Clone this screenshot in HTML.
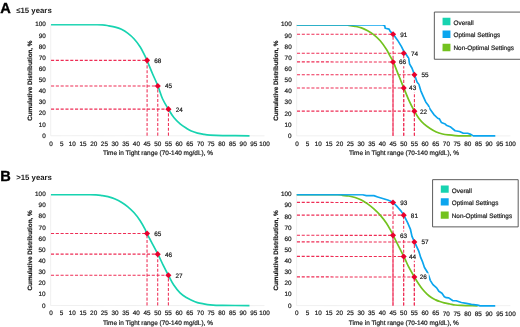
<!DOCTYPE html>
<html><head><meta charset="utf-8"><title>Cumulative distribution of Time in Tight Range</title>
<style>html,body{margin:0;padding:0;background:#fff}svg{display:block;filter:blur(0.3px)}text{text-rendering:geometricPrecision;font-family:"Liberation Sans",Arial,Helvetica,sans-serif;fill:#1a1a1a}.t{font-size:6.35px;stroke:#1a1a1a;stroke-width:0.2px}.b{font-weight:bold}.d{stroke:#ee2d55;fill:none}</style></head><body>
<svg width="520" height="327" viewBox="0 0 520 327">
<rect width="520" height="327" fill="#fff"/>
<g transform="rotate(0.02 260 163)">
<defs><clipPath id="ca"><rect x="0" y="24.2" width="520" height="120"/></clipPath><clipPath id="cb"><rect x="0" y="194.1" width="520" height="120"/></clipPath></defs>
<text class="b" x="0.3" y="12.9" font-size="14.6" style="fill:#000;stroke:#000;stroke-width:0.35">A</text>
<text class="b" x="16.2" y="13.4" font-size="7.8">≤15 years</text>
<path d="M50.70,24.35 V135.80 H264.50" fill="none" stroke="#ececec" stroke-width="0.8"/>
<text class="t" x="45.70" y="137.80" text-anchor="end">0</text>
<text class="t" x="45.70" y="126.66" text-anchor="end">10</text>
<text class="t" x="45.70" y="115.53" text-anchor="end">20</text>
<text class="t" x="45.70" y="104.39" text-anchor="end">30</text>
<text class="t" x="45.70" y="93.26" text-anchor="end">40</text>
<text class="t" x="45.70" y="82.12" text-anchor="end">50</text>
<text class="t" x="45.70" y="70.99" text-anchor="end">60</text>
<text class="t" x="45.70" y="59.85" text-anchor="end">70</text>
<text class="t" x="45.70" y="48.72" text-anchor="end">80</text>
<text class="t" x="45.70" y="37.59" text-anchor="end">90</text>
<text class="t" x="45.70" y="26.45" text-anchor="end">100</text>
<text class="t" x="51.00" y="145.65" text-anchor="middle">0</text>
<text class="t" x="61.67" y="145.65" text-anchor="middle">5</text>
<text class="t" x="72.35" y="145.65" text-anchor="middle">10</text>
<text class="t" x="83.03" y="145.65" text-anchor="middle">15</text>
<text class="t" x="93.70" y="145.65" text-anchor="middle">20</text>
<text class="t" x="104.38" y="145.65" text-anchor="middle">25</text>
<text class="t" x="115.05" y="145.65" text-anchor="middle">30</text>
<text class="t" x="125.72" y="145.65" text-anchor="middle">35</text>
<text class="t" x="136.40" y="145.65" text-anchor="middle">40</text>
<text class="t" x="147.07" y="145.65" text-anchor="middle">45</text>
<text class="t" x="157.75" y="145.65" text-anchor="middle">50</text>
<text class="t" x="168.42" y="145.65" text-anchor="middle">55</text>
<text class="t" x="179.10" y="145.65" text-anchor="middle">60</text>
<text class="t" x="189.77" y="145.65" text-anchor="middle">65</text>
<text class="t" x="200.45" y="145.65" text-anchor="middle">70</text>
<text class="t" x="211.12" y="145.65" text-anchor="middle">75</text>
<text class="t" x="221.80" y="145.65" text-anchor="middle">80</text>
<text class="t" x="232.47" y="145.65" text-anchor="middle">85</text>
<text class="t" x="243.15" y="145.65" text-anchor="middle">90</text>
<text class="t" x="253.82" y="145.65" text-anchor="middle">95</text>
<text class="t" x="264.50" y="145.65" text-anchor="middle">100</text>
<text class="t" style="font-size:6.45px" x="157.96" y="155.30" text-anchor="middle">Time in Tight range (70-140 mg/dL), %</text>
<text class="t b" style="font-size:6.3px" transform="translate(31.70,80.69) rotate(-90)" text-anchor="middle">Cumulative Distribution, %</text>
<path class="d" d="M51.00,60.40 H147.07" stroke-width="1.10" stroke-dasharray="3.1 1.7"/>
<path class="d" d="M147.07,135.70 V60.40" stroke-width="1.05" stroke-dasharray="3.1 1.7"/>
<path class="d" d="M51.00,86.00 H157.75" stroke-width="1.10" stroke-dasharray="3.1 1.7"/>
<path class="d" d="M157.75,135.70 V86.00" stroke-width="1.05" stroke-dasharray="3.1 1.7"/>
<path class="d" d="M51.00,109.20 H168.42" stroke-width="1.10" stroke-dasharray="3.1 1.7"/>
<path class="d" d="M168.42,135.70 V109.20" stroke-width="1.05" stroke-dasharray="3.1 1.7"/>
<path clip-path="url(#ca)" d="M51.00,24.80 C57.50,24.80 81.42,24.78 90.00,24.80 C98.58,24.82 99.37,24.72 102.50,24.90 C105.63,25.08 106.70,25.52 108.80,25.90 C110.90,26.27 113.00,26.57 115.10,27.15 C117.20,27.73 119.32,28.39 121.40,29.40 C123.48,30.41 125.52,31.63 127.60,33.20 C129.68,34.77 131.80,36.50 133.90,38.80 C136.00,41.10 138.45,44.30 140.20,47.00 C141.95,49.70 143.28,52.78 144.40,55.00 C145.52,57.22 145.55,57.17 146.90,60.30 C148.25,63.43 150.67,69.52 152.50,73.80 C154.33,78.08 156.23,81.83 157.90,86.00 C159.57,90.17 160.75,94.93 162.50,98.80 C164.25,102.67 166.52,106.07 168.40,109.20 C170.28,112.33 171.85,115.15 173.80,117.60 C175.75,120.05 178.00,122.12 180.10,123.90 C182.20,125.68 184.53,127.10 186.40,128.30 C188.27,129.50 189.45,130.28 191.30,131.10 C193.15,131.92 195.42,132.65 197.50,133.20 C199.58,133.75 201.70,134.08 203.80,134.40 C205.90,134.72 206.97,134.90 210.10,135.10 C213.23,135.30 216.03,135.48 222.60,135.60 C229.17,135.72 245.02,135.77 249.50,135.80" fill="none" stroke="#17d3b0" stroke-width="1.7" stroke-linejoin="round"/>
<rect x="153.07" y="56.60" width="10.2" height="8.2" fill="#fff"/>
<text class="t" x="154.27" y="62.85">68</text>
<rect x="163.75" y="82.20" width="10.2" height="8.2" fill="#fff"/>
<text class="t" x="164.95" y="88.45">45</text>
<rect x="174.42" y="105.40" width="10.2" height="8.2" fill="#fff"/>
<text class="t" x="175.62" y="111.65">24</text>
<path d="M144.02,60.40 l3.05,-3.05 l3.05,3.05 l-3.05,3.05 z" fill="#e9002d"/>
<path d="M154.70,86.00 l3.05,-3.05 l3.05,3.05 l-3.05,3.05 z" fill="#e9002d"/>
<path d="M165.37,109.20 l3.05,-3.05 l3.05,3.05 l-3.05,3.05 z" fill="#e9002d"/>
<path d="M296.65,24.35 V135.80 H510.45" fill="none" stroke="#ececec" stroke-width="0.8"/>
<text class="t" x="291.65" y="137.80" text-anchor="end">0</text>
<text class="t" x="291.65" y="126.66" text-anchor="end">10</text>
<text class="t" x="291.65" y="115.53" text-anchor="end">20</text>
<text class="t" x="291.65" y="104.39" text-anchor="end">30</text>
<text class="t" x="291.65" y="93.26" text-anchor="end">40</text>
<text class="t" x="291.65" y="82.12" text-anchor="end">50</text>
<text class="t" x="291.65" y="70.99" text-anchor="end">60</text>
<text class="t" x="291.65" y="59.85" text-anchor="end">70</text>
<text class="t" x="291.65" y="48.72" text-anchor="end">80</text>
<text class="t" x="291.65" y="37.59" text-anchor="end">90</text>
<text class="t" x="291.65" y="26.45" text-anchor="end">100</text>
<text class="t" x="296.95" y="145.65" text-anchor="middle">0</text>
<text class="t" x="307.62" y="145.65" text-anchor="middle">5</text>
<text class="t" x="318.30" y="145.65" text-anchor="middle">10</text>
<text class="t" x="328.97" y="145.65" text-anchor="middle">15</text>
<text class="t" x="339.65" y="145.65" text-anchor="middle">20</text>
<text class="t" x="350.32" y="145.65" text-anchor="middle">25</text>
<text class="t" x="361.00" y="145.65" text-anchor="middle">30</text>
<text class="t" x="371.67" y="145.65" text-anchor="middle">35</text>
<text class="t" x="382.35" y="145.65" text-anchor="middle">40</text>
<text class="t" x="393.02" y="145.65" text-anchor="middle">45</text>
<text class="t" x="403.70" y="145.65" text-anchor="middle">50</text>
<text class="t" x="414.38" y="145.65" text-anchor="middle">55</text>
<text class="t" x="425.05" y="145.65" text-anchor="middle">60</text>
<text class="t" x="435.72" y="145.65" text-anchor="middle">65</text>
<text class="t" x="446.40" y="145.65" text-anchor="middle">70</text>
<text class="t" x="457.07" y="145.65" text-anchor="middle">75</text>
<text class="t" x="467.75" y="145.65" text-anchor="middle">80</text>
<text class="t" x="478.42" y="145.65" text-anchor="middle">85</text>
<text class="t" x="489.10" y="145.65" text-anchor="middle">90</text>
<text class="t" x="499.77" y="145.65" text-anchor="middle">95</text>
<text class="t" x="510.45" y="145.65" text-anchor="middle">100</text>
<text class="t" style="font-size:6.45px" x="403.91" y="155.30" text-anchor="middle">Time in Tight range (70-140 mg/dL), %</text>
<text class="t b" style="font-size:6.3px" transform="translate(277.65,80.69) rotate(-90)" text-anchor="middle">Cumulative Distribution, %</text>
<path class="d" d="M296.95,34.20 H393.02" stroke-width="1.10" stroke-dasharray="3.1 1.7"/>
<path class="d" d="M393.02,135.70 V34.20" stroke-width="1.05" stroke-dasharray="3.1 1.7"/>
<path class="d" d="M296.95,53.20 H403.70" stroke-width="1.10" stroke-dasharray="3.1 1.7"/>
<path class="d" d="M403.70,135.70 V53.20" stroke-width="1.05" stroke-dasharray="3.1 1.7"/>
<path class="d" d="M296.95,74.70 H414.38" stroke-width="1.10" stroke-dasharray="3.1 1.7"/>
<path class="d" d="M414.38,135.70 V74.70" stroke-width="1.05" stroke-dasharray="3.1 1.7"/>
<path class="d" d="M296.95,61.90 H393.02" stroke-width="1.10" stroke-dasharray="3.1 1.7"/>
<path class="d" d="M393.02,135.70 V61.90" stroke-width="1.05" stroke-dasharray="3.1 1.7"/>
<path class="d" d="M296.95,88.00 H403.70" stroke-width="1.10" stroke-dasharray="3.1 1.7"/>
<path class="d" d="M403.70,135.70 V88.00" stroke-width="1.05" stroke-dasharray="3.1 1.7"/>
<path class="d" d="M296.95,111.10 H414.38" stroke-width="1.10" stroke-dasharray="3.1 1.7"/>
<path class="d" d="M414.38,135.70 V111.10" stroke-width="1.05" stroke-dasharray="3.1 1.7"/>
<path d="M393.02,61.90 V135.70" fill="none" stroke="#f4708c" stroke-width="1.6"/>
<path clip-path="url(#ca)" d="M296.75,24.80 C304.38,24.80 333.82,24.72 342.50,24.80 C351.18,24.88 346.70,25.05 348.80,25.30 C350.90,25.55 353.00,25.88 355.10,26.30 C357.20,26.72 359.32,27.07 361.40,27.80 C363.48,28.53 365.52,29.53 367.60,30.70 C369.68,31.87 371.80,33.13 373.90,34.80 C376.00,36.47 378.10,38.25 380.20,40.70 C382.30,43.15 384.83,46.88 386.50,49.50 C388.17,52.12 389.08,54.33 390.20,56.40 C391.32,58.47 391.77,58.68 393.20,61.90 C394.63,65.12 397.03,71.35 398.80,75.70 C400.57,80.05 402.13,83.95 403.80,88.00 C405.47,92.05 407.03,96.15 408.80,100.00 C410.57,103.85 412.73,108.07 414.40,111.10 C416.07,114.13 417.22,116.07 418.80,118.20 C420.38,120.33 422.02,122.18 423.90,123.90 C425.78,125.62 428.03,127.15 430.10,128.50 C432.17,129.85 434.23,131.10 436.30,132.00 C438.37,132.90 440.42,133.42 442.50,133.90 C444.58,134.38 446.70,134.63 448.80,134.90 C450.90,135.17 453.00,135.35 455.10,135.50 C457.20,135.65 458.68,135.75 461.40,135.80 C464.12,135.85 469.73,135.80 471.40,135.80" fill="none" stroke="#73c21f" stroke-width="1.7" stroke-linejoin="round"/>
<path clip-path="url(#ca)" d="M296.75,24.80 L382.70,24.80 L384.60,25.60 L385.20,28.20 L389.00,29.00 L390.20,31.30 L393.20,34.20 L397.50,40.10 L401.30,46.30 L403.80,51.30 L407.00,55.70 L408.60,58.20 L409.50,63.80 L412.00,68.20 L414.50,74.80 L417.00,82.00 L418.90,84.50 L420.80,90.80 L423.20,96.30 L425.70,101.90 L428.20,105.10 L430.10,109.20 L433.90,114.50 L437.70,118.20 L439.40,118.80 L441.30,122.40 L445.20,123.90 L446.30,125.10 L450.70,127.00 L455.10,130.70 L459.50,131.40 L463.30,133.20 L467.60,133.20 L470.80,134.30 L473.30,135.80 L495.30,135.80" fill="none" stroke="#0ba5ee" stroke-width="1.7" stroke-linejoin="round"/>
<rect x="399.02" y="30.40" width="10.2" height="8.2" fill="#fff"/>
<text class="t" x="400.22" y="36.65">91</text>
<rect x="409.70" y="49.40" width="10.2" height="8.2" fill="#fff"/>
<text class="t" x="410.90" y="55.65">74</text>
<rect x="420.38" y="70.90" width="10.2" height="8.2" fill="#fff"/>
<text class="t" x="421.57" y="77.15">55</text>
<rect x="397.82" y="58.10" width="10.2" height="8.2" fill="#fff"/>
<text class="t" x="399.02" y="64.35">66</text>
<rect x="407.90" y="84.20" width="10.2" height="8.2" fill="#fff"/>
<text class="t" x="409.10" y="90.45">43</text>
<rect x="418.88" y="107.30" width="10.2" height="8.2" fill="#fff"/>
<text class="t" x="420.07" y="113.55">22</text>
<path d="M389.97,34.20 l3.05,-3.05 l3.05,3.05 l-3.05,3.05 z" fill="#e9002d"/>
<path d="M400.65,53.20 l3.05,-3.05 l3.05,3.05 l-3.05,3.05 z" fill="#e9002d"/>
<path d="M411.32,74.70 l3.05,-3.05 l3.05,3.05 l-3.05,3.05 z" fill="#e9002d"/>
<path d="M389.97,61.90 l3.05,-3.05 l3.05,3.05 l-3.05,3.05 z" fill="#e9002d"/>
<path d="M400.65,88.00 l3.05,-3.05 l3.05,3.05 l-3.05,3.05 z" fill="#e9002d"/>
<path d="M411.32,111.10 l3.05,-3.05 l3.05,3.05 l-3.05,3.05 z" fill="#e9002d"/>
<rect x="434.30" y="12.00" width="90.00" height="47.20" fill="#fff" stroke="#4a4a4a" stroke-width="0.9"/>
<rect x="442.50" y="17.80" width="7.9" height="7.4" fill="#17d3b0"/>
<text class="t" x="453.50" y="24.70">Overall</text>
<rect x="442.50" y="30.50" width="7.9" height="7.4" fill="#0ba5ee"/>
<text class="t" x="453.50" y="36.50">Optimal Settings</text>
<rect x="442.50" y="43.80" width="7.9" height="7.4" fill="#73c21f"/>
<text class="t" x="453.50" y="49.80">Non-Optimal Settings</text>
<text class="b" x="0.3" y="181.2" font-size="14.6" style="fill:#000;stroke:#000;stroke-width:0.35">B</text>
<text class="b" x="16.2" y="179.8" font-size="7.8">&gt;15 years</text>
<path d="M50.70,194.15 V305.60 H264.50" fill="none" stroke="#ececec" stroke-width="0.8"/>
<text class="t" x="45.70" y="307.60" text-anchor="end">0</text>
<text class="t" x="45.70" y="296.47" text-anchor="end">10</text>
<text class="t" x="45.70" y="285.33" text-anchor="end">20</text>
<text class="t" x="45.70" y="274.20" text-anchor="end">30</text>
<text class="t" x="45.70" y="263.06" text-anchor="end">40</text>
<text class="t" x="45.70" y="251.92" text-anchor="end">50</text>
<text class="t" x="45.70" y="240.79" text-anchor="end">60</text>
<text class="t" x="45.70" y="229.66" text-anchor="end">70</text>
<text class="t" x="45.70" y="218.52" text-anchor="end">80</text>
<text class="t" x="45.70" y="207.39" text-anchor="end">90</text>
<text class="t" x="45.70" y="196.25" text-anchor="end">100</text>
<text class="t" x="51.00" y="315.45" text-anchor="middle">0</text>
<text class="t" x="61.67" y="315.45" text-anchor="middle">5</text>
<text class="t" x="72.35" y="315.45" text-anchor="middle">10</text>
<text class="t" x="83.03" y="315.45" text-anchor="middle">15</text>
<text class="t" x="93.70" y="315.45" text-anchor="middle">20</text>
<text class="t" x="104.38" y="315.45" text-anchor="middle">25</text>
<text class="t" x="115.05" y="315.45" text-anchor="middle">30</text>
<text class="t" x="125.72" y="315.45" text-anchor="middle">35</text>
<text class="t" x="136.40" y="315.45" text-anchor="middle">40</text>
<text class="t" x="147.07" y="315.45" text-anchor="middle">45</text>
<text class="t" x="157.75" y="315.45" text-anchor="middle">50</text>
<text class="t" x="168.42" y="315.45" text-anchor="middle">55</text>
<text class="t" x="179.10" y="315.45" text-anchor="middle">60</text>
<text class="t" x="189.77" y="315.45" text-anchor="middle">65</text>
<text class="t" x="200.45" y="315.45" text-anchor="middle">70</text>
<text class="t" x="211.12" y="315.45" text-anchor="middle">75</text>
<text class="t" x="221.80" y="315.45" text-anchor="middle">80</text>
<text class="t" x="232.47" y="315.45" text-anchor="middle">85</text>
<text class="t" x="243.15" y="315.45" text-anchor="middle">90</text>
<text class="t" x="253.82" y="315.45" text-anchor="middle">95</text>
<text class="t" x="264.50" y="315.45" text-anchor="middle">100</text>
<text class="t" style="font-size:6.45px" x="157.96" y="325.10" text-anchor="middle">Time in Tight range (70-140 mg/dL), %</text>
<text class="t b" style="font-size:6.3px" transform="translate(31.70,250.49) rotate(-90)" text-anchor="middle">Cumulative Distribution, %</text>
<path class="d" d="M51.00,233.50 H147.07" stroke-width="1.10" stroke-dasharray="3.1 1.7"/>
<path class="d" d="M147.07,305.50 V233.50" stroke-width="1.05" stroke-dasharray="3.1 1.7"/>
<path class="d" d="M51.00,254.20 H157.75" stroke-width="1.10" stroke-dasharray="3.1 1.7"/>
<path class="d" d="M157.75,305.50 V254.20" stroke-width="1.05" stroke-dasharray="3.1 1.7"/>
<path class="d" d="M51.00,275.35 H168.42" stroke-width="1.10" stroke-dasharray="3.1 1.7"/>
<path class="d" d="M168.42,305.50 V275.35" stroke-width="1.05" stroke-dasharray="3.1 1.7"/>
<path clip-path="url(#cb)" d="M51.00,194.70 C57.50,194.70 81.42,194.55 90.00,194.70 C98.58,194.85 99.37,195.23 102.50,195.60 C105.63,195.97 106.70,196.33 108.80,196.90 C110.90,197.47 113.00,198.12 115.10,199.00 C117.20,199.88 119.32,200.93 121.40,202.20 C123.48,203.47 125.52,204.87 127.60,206.60 C129.68,208.33 131.80,210.25 133.90,212.60 C136.00,214.95 138.32,217.88 140.20,220.70 C142.08,223.52 144.08,227.37 145.20,229.50 C146.32,231.63 144.78,229.40 146.90,233.50 C149.02,237.60 155.18,248.82 157.90,254.10 C160.62,259.38 161.45,261.67 163.20,265.20 C164.95,268.73 166.63,271.98 168.40,275.30 C170.17,278.62 171.85,282.17 173.80,285.10 C175.75,288.03 178.00,290.82 180.10,292.90 C182.20,294.98 184.53,296.40 186.40,297.60 C188.27,298.80 189.45,299.27 191.30,300.10 C193.15,300.93 195.42,301.97 197.50,302.60 C199.58,303.23 201.70,303.53 203.80,303.90 C205.90,304.27 206.97,304.55 210.10,304.80 C213.23,305.05 216.03,305.27 222.60,305.40 C229.17,305.53 245.02,305.57 249.50,305.60" fill="none" stroke="#17d3b0" stroke-width="1.7" stroke-linejoin="round"/>
<rect x="153.07" y="229.70" width="10.2" height="8.2" fill="#fff"/>
<text class="t" x="154.27" y="235.95">65</text>
<rect x="163.75" y="250.40" width="10.2" height="8.2" fill="#fff"/>
<text class="t" x="164.95" y="256.65">46</text>
<rect x="174.42" y="271.55" width="10.2" height="8.2" fill="#fff"/>
<text class="t" x="175.62" y="277.80">27</text>
<path d="M144.02,233.50 l3.05,-3.05 l3.05,3.05 l-3.05,3.05 z" fill="#e9002d"/>
<path d="M154.70,254.20 l3.05,-3.05 l3.05,3.05 l-3.05,3.05 z" fill="#e9002d"/>
<path d="M165.37,275.35 l3.05,-3.05 l3.05,3.05 l-3.05,3.05 z" fill="#e9002d"/>
<path d="M296.65,194.15 V305.60 H510.45" fill="none" stroke="#ececec" stroke-width="0.8"/>
<text class="t" x="291.65" y="307.60" text-anchor="end">0</text>
<text class="t" x="291.65" y="296.47" text-anchor="end">10</text>
<text class="t" x="291.65" y="285.33" text-anchor="end">20</text>
<text class="t" x="291.65" y="274.20" text-anchor="end">30</text>
<text class="t" x="291.65" y="263.06" text-anchor="end">40</text>
<text class="t" x="291.65" y="251.92" text-anchor="end">50</text>
<text class="t" x="291.65" y="240.79" text-anchor="end">60</text>
<text class="t" x="291.65" y="229.66" text-anchor="end">70</text>
<text class="t" x="291.65" y="218.52" text-anchor="end">80</text>
<text class="t" x="291.65" y="207.39" text-anchor="end">90</text>
<text class="t" x="291.65" y="196.25" text-anchor="end">100</text>
<text class="t" x="296.95" y="315.45" text-anchor="middle">0</text>
<text class="t" x="307.62" y="315.45" text-anchor="middle">5</text>
<text class="t" x="318.30" y="315.45" text-anchor="middle">10</text>
<text class="t" x="328.97" y="315.45" text-anchor="middle">15</text>
<text class="t" x="339.65" y="315.45" text-anchor="middle">20</text>
<text class="t" x="350.32" y="315.45" text-anchor="middle">25</text>
<text class="t" x="361.00" y="315.45" text-anchor="middle">30</text>
<text class="t" x="371.67" y="315.45" text-anchor="middle">35</text>
<text class="t" x="382.35" y="315.45" text-anchor="middle">40</text>
<text class="t" x="393.02" y="315.45" text-anchor="middle">45</text>
<text class="t" x="403.70" y="315.45" text-anchor="middle">50</text>
<text class="t" x="414.38" y="315.45" text-anchor="middle">55</text>
<text class="t" x="425.05" y="315.45" text-anchor="middle">60</text>
<text class="t" x="435.72" y="315.45" text-anchor="middle">65</text>
<text class="t" x="446.40" y="315.45" text-anchor="middle">70</text>
<text class="t" x="457.07" y="315.45" text-anchor="middle">75</text>
<text class="t" x="467.75" y="315.45" text-anchor="middle">80</text>
<text class="t" x="478.42" y="315.45" text-anchor="middle">85</text>
<text class="t" x="489.10" y="315.45" text-anchor="middle">90</text>
<text class="t" x="499.77" y="315.45" text-anchor="middle">95</text>
<text class="t" x="510.45" y="315.45" text-anchor="middle">100</text>
<text class="t" style="font-size:6.45px" x="403.91" y="325.10" text-anchor="middle">Time in Tight range (70-140 mg/dL), %</text>
<text class="t b" style="font-size:6.3px" transform="translate(277.65,250.49) rotate(-90)" text-anchor="middle">Cumulative Distribution, %</text>
<path class="d" d="M296.95,202.40 H393.02" stroke-width="1.10" stroke-dasharray="3.1 1.7"/>
<path class="d" d="M393.02,305.50 V202.40" stroke-width="1.05" stroke-dasharray="3.1 1.7"/>
<path class="d" d="M296.95,215.10 H403.70" stroke-width="1.10" stroke-dasharray="3.1 1.7"/>
<path class="d" d="M403.70,305.50 V215.10" stroke-width="1.05" stroke-dasharray="3.1 1.7"/>
<path class="d" d="M296.95,241.90 H414.38" stroke-width="1.10" stroke-dasharray="3.1 1.7"/>
<path class="d" d="M414.38,305.50 V241.90" stroke-width="1.05" stroke-dasharray="3.1 1.7"/>
<path class="d" d="M296.95,235.30 H393.02" stroke-width="1.10" stroke-dasharray="3.1 1.7"/>
<path class="d" d="M393.02,305.50 V235.30" stroke-width="1.05" stroke-dasharray="3.1 1.7"/>
<path class="d" d="M296.95,256.40 H403.70" stroke-width="1.10" stroke-dasharray="3.1 1.7"/>
<path class="d" d="M403.70,305.50 V256.40" stroke-width="1.05" stroke-dasharray="3.1 1.7"/>
<path class="d" d="M296.95,276.90 H414.38" stroke-width="1.10" stroke-dasharray="3.1 1.7"/>
<path class="d" d="M414.38,305.50 V276.90" stroke-width="1.05" stroke-dasharray="3.1 1.7"/>
<path d="M393.02,235.30 V305.50" fill="none" stroke="#f4708c" stroke-width="1.6"/>
<path clip-path="url(#cb)" d="M296.75,194.70 C303.54,194.70 329.88,194.60 337.50,194.70 C345.12,194.80 340.62,195.08 342.50,195.30 C344.38,195.52 346.70,195.63 348.80,196.00 C350.90,196.37 353.00,196.83 355.10,197.50 C357.20,198.17 359.32,198.95 361.40,200.00 C363.48,201.05 365.52,202.33 367.60,203.80 C369.68,205.27 371.80,206.92 373.90,208.80 C376.00,210.68 378.10,212.70 380.20,215.10 C382.30,217.50 384.72,220.58 386.50,223.20 C388.28,225.82 389.78,228.78 390.90,230.80 C392.02,232.82 391.05,231.03 393.20,235.30 C395.35,239.57 401.30,251.32 403.80,256.40 C406.30,261.48 406.43,262.38 408.20,265.80 C409.97,269.22 412.67,273.93 414.40,276.90 C416.13,279.87 417.20,281.52 418.60,283.60 C420.00,285.68 421.38,287.67 422.80,289.40 C424.22,291.13 425.67,292.65 427.10,294.00 C428.53,295.35 429.97,296.53 431.40,297.50 C432.83,298.47 434.28,299.13 435.70,299.80 C437.12,300.47 438.48,301.00 439.90,301.50 C441.32,302.00 442.52,302.40 444.20,302.80 C445.88,303.20 448.18,303.55 450.00,303.90 C451.82,304.25 453.20,304.65 455.10,304.90 C457.00,305.15 459.32,305.28 461.40,305.40 C463.48,305.52 464.88,305.53 467.60,305.60 C470.32,305.67 476.02,305.77 477.70,305.80" fill="none" stroke="#73c21f" stroke-width="1.7" stroke-linejoin="round"/>
<path clip-path="url(#cb)" d="M296.75,194.70 L362.60,194.70 L366.40,195.60 L373.90,195.60 L377.70,196.90 L382.70,198.50 L387.70,200.00 L390.20,201.00 L393.20,202.50 L397.50,206.90 L401.30,211.30 L403.80,215.10 L407.60,222.60 L410.40,229.00 L412.00,236.30 L414.50,241.90 L418.90,251.40 L420.80,257.60 L422.30,261.00 L424.50,267.50 L427.60,272.50 L428.90,276.00 L430.30,280.30 L433.00,284.60 L436.70,287.80 L438.90,291.20 L442.00,293.20 L444.40,296.60 L446.40,297.60 L448.80,297.80 L452.60,300.50 L456.30,300.70 L461.40,302.40 L466.40,303.30 L471.40,304.30 L477.70,305.10 L480.20,305.80 L495.30,305.80" fill="none" stroke="#0ba5ee" stroke-width="1.7" stroke-linejoin="round"/>
<rect x="399.02" y="198.60" width="10.2" height="8.2" fill="#fff"/>
<text class="t" x="400.22" y="204.85">93</text>
<rect x="409.70" y="211.30" width="10.2" height="8.2" fill="#fff"/>
<text class="t" x="410.90" y="217.55">81</text>
<rect x="420.38" y="238.10" width="10.2" height="8.2" fill="#fff"/>
<text class="t" x="421.57" y="244.35">57</text>
<rect x="398.82" y="231.50" width="10.2" height="8.2" fill="#fff"/>
<text class="t" x="400.02" y="237.75">63</text>
<rect x="407.90" y="252.60" width="10.2" height="8.2" fill="#fff"/>
<text class="t" x="409.10" y="258.85">44</text>
<rect x="418.57" y="273.10" width="10.2" height="8.2" fill="#fff"/>
<text class="t" x="419.77" y="279.35">26</text>
<path d="M389.97,202.40 l3.05,-3.05 l3.05,3.05 l-3.05,3.05 z" fill="#e9002d"/>
<path d="M400.65,215.10 l3.05,-3.05 l3.05,3.05 l-3.05,3.05 z" fill="#e9002d"/>
<path d="M411.32,241.90 l3.05,-3.05 l3.05,3.05 l-3.05,3.05 z" fill="#e9002d"/>
<path d="M389.97,235.30 l3.05,-3.05 l3.05,3.05 l-3.05,3.05 z" fill="#e9002d"/>
<path d="M400.65,256.40 l3.05,-3.05 l3.05,3.05 l-3.05,3.05 z" fill="#e9002d"/>
<path d="M411.32,276.90 l3.05,-3.05 l3.05,3.05 l-3.05,3.05 z" fill="#e9002d"/>
<rect x="432.60" y="179.60" width="85.60" height="47.20" fill="#fff" stroke="#4a4a4a" stroke-width="0.9"/>
<rect x="440.80" y="185.40" width="7.9" height="7.4" fill="#17d3b0"/>
<text class="t" x="451.80" y="192.90">Overall</text>
<rect x="440.80" y="198.10" width="7.9" height="7.4" fill="#0ba5ee"/>
<text class="t" x="451.80" y="204.70">Optimal Settings</text>
<rect x="440.80" y="211.40" width="7.9" height="7.4" fill="#73c21f"/>
<text class="t" x="451.80" y="218.00">Non-Optimal Settings</text>
</g></svg></body></html>
